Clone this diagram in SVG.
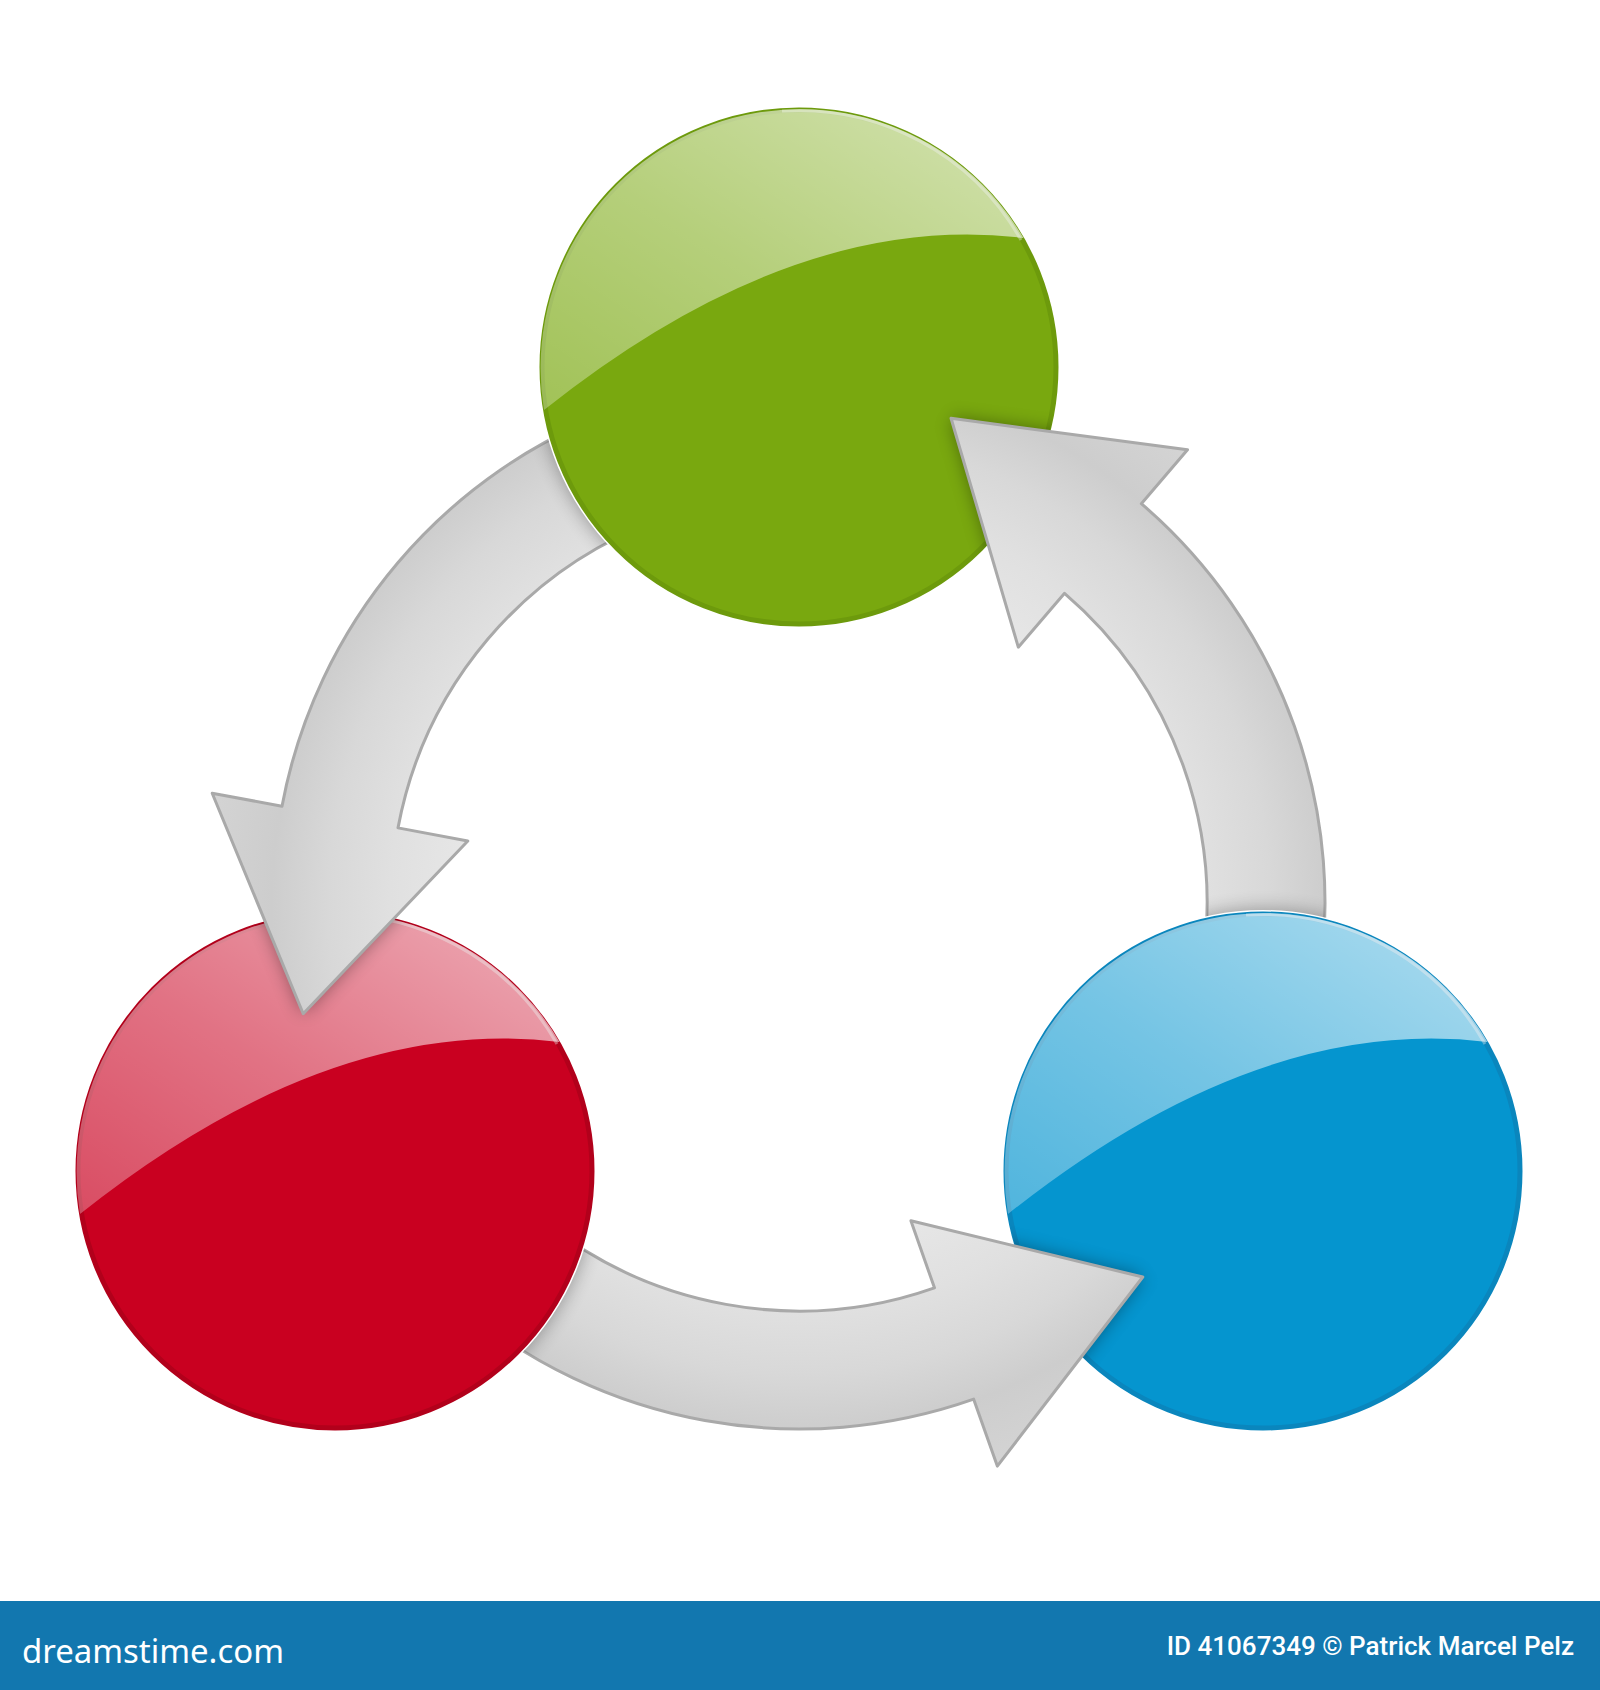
<svg xmlns="http://www.w3.org/2000/svg" xmlns:xlink="http://www.w3.org/1999/xlink" width="1600" height="1690" viewBox="0 0 1600 1690">
<style>
.arrow{fill:url(#arrowFill);stroke:#a9a9a9;stroke-width:3;stroke-linejoin:round}
.hl{stroke:none}
.footer-left{font-family:"Noto Sans","Liberation Sans",sans-serif;font-size:33px;fill:#ffffff}
.footer-right{font-family:Roboto,"Liberation Sans",sans-serif;font-weight:500;font-size:26px;fill:#ffffff}
</style>
<defs>
  <path id="arrowShape" d="M 619.1 408.7 A 526 526 0 0 0 282.0 806.2 L 212.2 793.2 L 303.2 1013.7 L 467.8 841.0 L 398.0 827.9 A 408 408 0 0 1 659.5 519.6 Z"/>
  <path id="hlShape" d="M -255 43 Q -4 -157 224.5 -129 A 259 259 0 0 0 -255 43 Z"/>
  <radialGradient id="arrowFill" cx="799" cy="903" r="620" gradientUnits="userSpaceOnUse">
    <stop offset="0.55" stop-color="#e6e6e6"/>
    <stop offset="0.66" stop-color="#e0e0e0"/>
    <stop offset="0.76" stop-color="#d8d8d8"/>
    <stop offset="0.85" stop-color="#cdcdcd"/>
    <stop offset="1" stop-color="#d6d6d6"/>
  </radialGradient>
  <linearGradient id="hlGrad" x1="1" y1="0" x2="0" y2="1">
    <stop offset="0" stop-color="#ffffff" stop-opacity="0.68"/>
    <stop offset="0.55" stop-color="#ffffff" stop-opacity="0.45"/>
    <stop offset="1" stop-color="#ffffff" stop-opacity="0.3"/>
  </linearGradient>
  <filter id="blur" x="-30%" y="-30%" width="160%" height="160%">
    <feGaussianBlur stdDeviation="9"/>
  </filter>
  <clipPath id="notGreen"><path clip-rule="evenodd" d="M0 0H1600V1690H0Z M538 367a261 261 0 1 0 522 0a261 261 0 1 0 -522 0Z"/></clipPath>
  <clipPath id="notRed"><path clip-rule="evenodd" d="M0 0H1600V1690H0Z M74 1171a261 261 0 1 0 522 0a261 261 0 1 0 -522 0Z"/></clipPath>
  <clipPath id="notBlue"><path clip-rule="evenodd" d="M0 0H1600V1690H0Z M1002 1171a261 261 0 1 0 522 0a261 261 0 1 0 -522 0Z"/></clipPath>
  <clipPath id="inGreen"><circle cx="799" cy="367" r="259"/></clipPath>
  <clipPath id="inRed"><circle cx="335" cy="1171" r="259"/></clipPath>
  <clipPath id="inBlue"><circle cx="1263" cy="1171" r="259"/></clipPath>
  <clipPath id="inArrow1"><use xlink:href="#arrowShape"/></clipPath>
  <clipPath id="inArrow2"><use xlink:href="#arrowShape" transform="rotate(-120 799 903)"/></clipPath>
  <clipPath id="inArrow3"><use xlink:href="#arrowShape" transform="rotate(-240 799 903)"/></clipPath>
</defs>
<rect x="0" y="0" width="1600" height="1690" fill="#ffffff"/>

<g id="node-green">
  <circle cx="799" cy="367" r="257" fill="#79a80f" stroke="#6d9a0c" stroke-width="5"/>
  <use xlink:href="#hlShape" class="hl" fill="url(#hlGrad)" transform="translate(799 367)"/>
  <path d="M 782 111 A 256 256 0 0 1 1021 240" fill="none" stroke="#ffffff" stroke-opacity="0.35" stroke-width="3"/>
</g>
<g id="node-red">
  <circle cx="335" cy="1171" r="257" fill="#c90020" stroke="#b2001b" stroke-width="5"/>
  <use xlink:href="#hlShape" class="hl" fill="url(#hlGrad)" transform="translate(335 1171)"/>
  <path d="M 318 915 A 256 256 0 0 1 557 1044" fill="none" stroke="#ffffff" stroke-opacity="0.35" stroke-width="3"/>
</g>
<g id="node-blue">
  <circle cx="1263" cy="1171" r="257" fill="#0595cf" stroke="#0a86bd" stroke-width="5"/>
  <use xlink:href="#hlShape" class="hl" fill="url(#hlGrad)" transform="translate(1263 1171)"/>
  <path d="M 1246 915 A 256 256 0 0 1 1485 1044" fill="none" stroke="#ffffff" stroke-opacity="0.35" stroke-width="3"/>
</g>

<g id="connectors">
  <!-- arrowhead shadows on target circles -->
  <g clip-path="url(#inRed)"><use xlink:href="#arrowShape" fill="#000" opacity="0.4" filter="url(#blur)"/></g>
  <g clip-path="url(#inBlue)"><use xlink:href="#arrowShape" transform="rotate(-120 799 903)" fill="#000" opacity="0.4" filter="url(#blur)"/></g>
  <g clip-path="url(#inGreen)"><use xlink:href="#arrowShape" transform="rotate(-240 799 903)" fill="#000" opacity="0.4" filter="url(#blur)"/></g>

  <g id="arrow-green-red" clip-path="url(#notGreen)">
    <use xlink:href="#arrowShape" class="arrow"/>
    <g clip-path="url(#inArrow1)"><circle cx="799" cy="367" r="262" fill="#000" opacity="0.3" filter="url(#blur)"/></g>
  </g>
  <g id="arrow-red-blue" clip-path="url(#notRed)">
    <use xlink:href="#arrowShape" class="arrow" transform="rotate(-120 799 903)"/>
    <g clip-path="url(#inArrow2)"><circle cx="335" cy="1171" r="262" fill="#000" opacity="0.3" filter="url(#blur)"/></g>
  </g>
  <g id="arrow-blue-green" clip-path="url(#notBlue)">
    <use xlink:href="#arrowShape" class="arrow" transform="rotate(-240 799 903)"/>
    <g clip-path="url(#inArrow3)"><circle cx="1263" cy="1171" r="262" fill="#000" opacity="0.3" filter="url(#blur)"/></g>
  </g>
</g>

<g id="footer">
  <rect x="0" y="1601" width="1600" height="89" fill="#1277af"/>
  <text class="footer-left" x="22" y="1663" textLength="262" lengthAdjust="spacingAndGlyphs">dreamstime.com</text>
  <text class="footer-right" x="1574" y="1655" text-anchor="end">ID 41067349 © Patrick Marcel Pelz</text>
</g>
</svg>
